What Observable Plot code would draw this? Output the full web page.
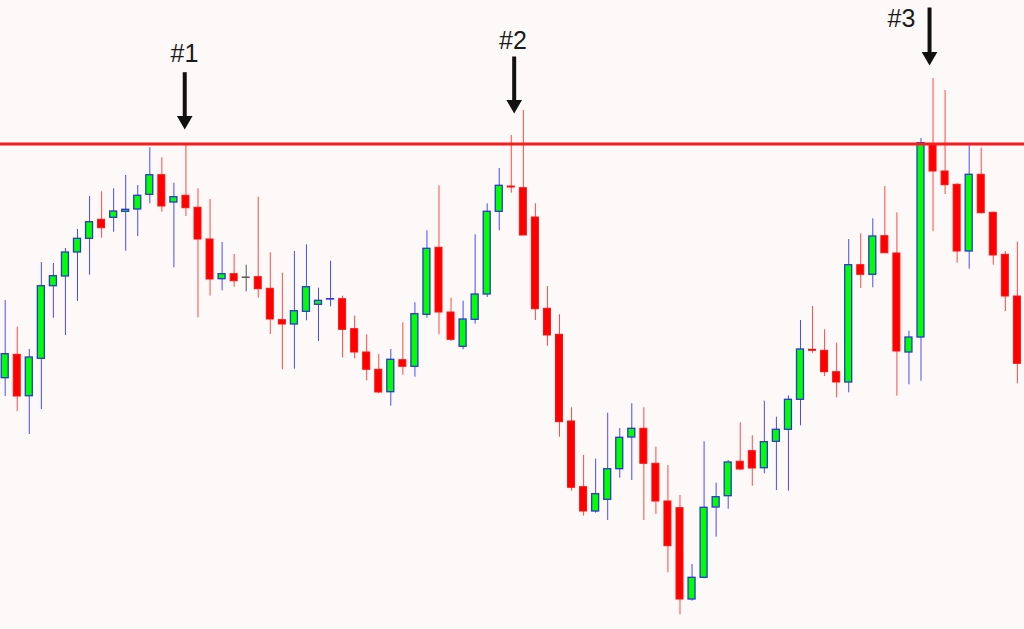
<!DOCTYPE html>
<html>
<head>
<meta charset="utf-8">
<script src="https://cdn.jsdelivr.net/npm/d3@7"></script>
<script src="https://cdn.jsdelivr.net/npm/@observablehq/plot@0.6"></script>
<style>
  html, body { margin: 0; padding: 0; background: #fdf9f8; }
  #chart svg { display: block; }
</style>
</head>
<body>
<div id="chart"></div>
<script>
// Candle values (price units, higher = up)
const open = [251.3,274.7,233.3,270.7,343.3,353,377,390.7,409.7,411.7,417.7,420,434.7,454.3,427,433.7,421.7,390,350.3,355.3,352.3,352.3,340.7,309.3,305,317.7,324.7,330,330.3,300.3,277,259.7,237.3,269.3,262.7,314.7,381.7,317,282.7,309.7,335,417.7,443,441.3,412,320.7,294.7,208,142.3,118,129.7,160.3,192,200.7,165.7,128,121.3,30,51.7,122,133.3,167.7,178.3,161.3,187.7,199.7,229.7,279.7,278.7,257.3,247,364.3,354.7,393.3,376,277,292,485.3,458,444.7,378,454.7,416.7,374.7,333];
const high = [329,302.3,280,367,366,381,400,433,437.7,440.7,454,444,481.7,471.7,446.3,486,440.7,430,387,375,364.3,432.3,376.7,356.3,378,384.7,341.3,368.3,333.3,313.3,294.7,275,280,306.7,326.7,398.7,443.7,331.3,328.3,394.7,425.7,461,494,519,425.7,343,314.7,221.7,174,170.3,216.3,201,225.7,221.7,182.3,164,134,65,187.7,146.3,169,206.7,193.7,228.3,212.3,233.7,309,323,299.7,286.3,390,395.7,410.7,443,416.7,298.3,491,551,539,445.7,485.7,481.3,417.3,378,387.3];
const low = [233,218,195,220,311.3,294,328,354.3,391.3,397.3,378.3,393,425.7,417.3,361.7,413,311.7,333.3,338.7,342.3,337.7,331.3,295,259.7,260.3,308.7,288,322.7,271.7,270.7,248.7,236,223.3,254.3,252.3,311.3,294.7,288,279.7,305.3,332,398.7,436.3,394,309,283.3,192.3,138.3,113.3,116.3,109,151.3,149,109,115,56.7,14.7,28.3,50.7,92.3,120.3,159,143.3,155.7,139,138.3,203.7,276.3,253,231.7,236.7,341,341.7,376.3,233.3,244.7,248.3,398,435,366.3,360.3,415.7,364.3,318,245.7];
const close = [275.3,233,272,343.3,353.3,377,390.7,407.3,401.3,418,419.7,433.7,454.3,423,432.3,421.3,390,350,355.3,348.3,352.3,340.3,310,305,318.3,342.3,328.7,330.3,299.7,277,259.7,237,269.7,262.7,315.3,380.7,317,289.7,310,335,417.7,443.7,442,394,320.3,294,207.3,141.7,118,135.3,160.3,191.7,200.7,165.7,128,83.3,30,51.7,121.7,132.3,167,160,161,187.3,199.7,229.7,280,278.7,257.3,247,364.3,354.7,393,376.3,278,292,486.3,458,444.3,378,454.7,416.3,374,333,265.7];

// Resistance level
const resistance = [485.5];

// Annotations
const labels = ["#1", "#2", "#3"];
const labelX = [14.88, 42.14, 74.38];
const labelY = [575.5, 589, 611];
const arrowX = [14.9, 42.24, 76.71];
const arrowTop = [557.3, 573, 622];
const arrowTip = [500, 516, 564];

const candles = open.map((o, i) => ({i, o, h: high[i], l: low[i], c: close[i]}));
const up = candles.filter(d => d.c > d.o);
const down = candles.filter(d => d.c < d.o);
const flat = candles.filter(d => d.c === d.o);
const notes = labels.map((t, k) => ({t, lx: labelX[k], ly: labelY[k], ax: arrowX[k], top: arrowTop[k], tip: arrowTip[k]}));

const half = 0.29;
const chart = Plot.plot({
  width: 1024,
  height: 629,
  margin: 0,
  style: {background: "#fdf9f8", overflow: "visible"},
  x: {type: "linear", domain: [-0.39, 84.59], axis: null},
  y: {domain: [0, 629], axis: null},
  marks: [
    Plot.ruleX(up, {x: "i", y1: "l", y2: "h", stroke: "#4a4aff", strokeWidth: 1}),
    Plot.ruleX(down, {x: "i", y1: "l", y2: "h", stroke: "#ff4a4a", strokeWidth: 1}),
    Plot.ruleX(flat, {x: "i", y1: "l", y2: "h", stroke: "#555", strokeWidth: 1}),
    Plot.rect(up, {x1: d => d.i - half, x2: d => d.i + half, y1: "o", y2: "c", fill: "#00ff00", stroke: "#2b35d8", strokeWidth: 1.3}),
    Plot.rect(down, {x1: d => d.i - half, x2: d => d.i + half, y1: "o", y2: "c", fill: "#ff0000", stroke: "#ff1010", strokeWidth: 1}),
    Plot.ruleY(flat, {y: "c", x1: d => d.i - half - 0.04, x2: d => d.i + half + 0.04, stroke: "#555", strokeWidth: 1.5}),
    Plot.ruleY(resistance, {stroke: "#ff1a1a", strokeWidth: 3}),
    Plot.link(notes, {x1: "ax", x2: "ax", y1: "top", y2: d => d.tip + 12, stroke: "#111", strokeWidth: 4}),
    Plot.dot(notes, {x: "ax", y: "tip", symbol: "triangle", rotate: 180, r: 5.8, dy: -9, fill: "#111", stroke: "none"}),
    Plot.text(notes, {x: "lx", y: "ly", text: "t", fontSize: 25, fontFamily: "Liberation Sans, Arial, sans-serif", fill: "#1a1a1a"})
  ]
});
document.getElementById("chart").append(chart);
</script>
</body>
</html>
